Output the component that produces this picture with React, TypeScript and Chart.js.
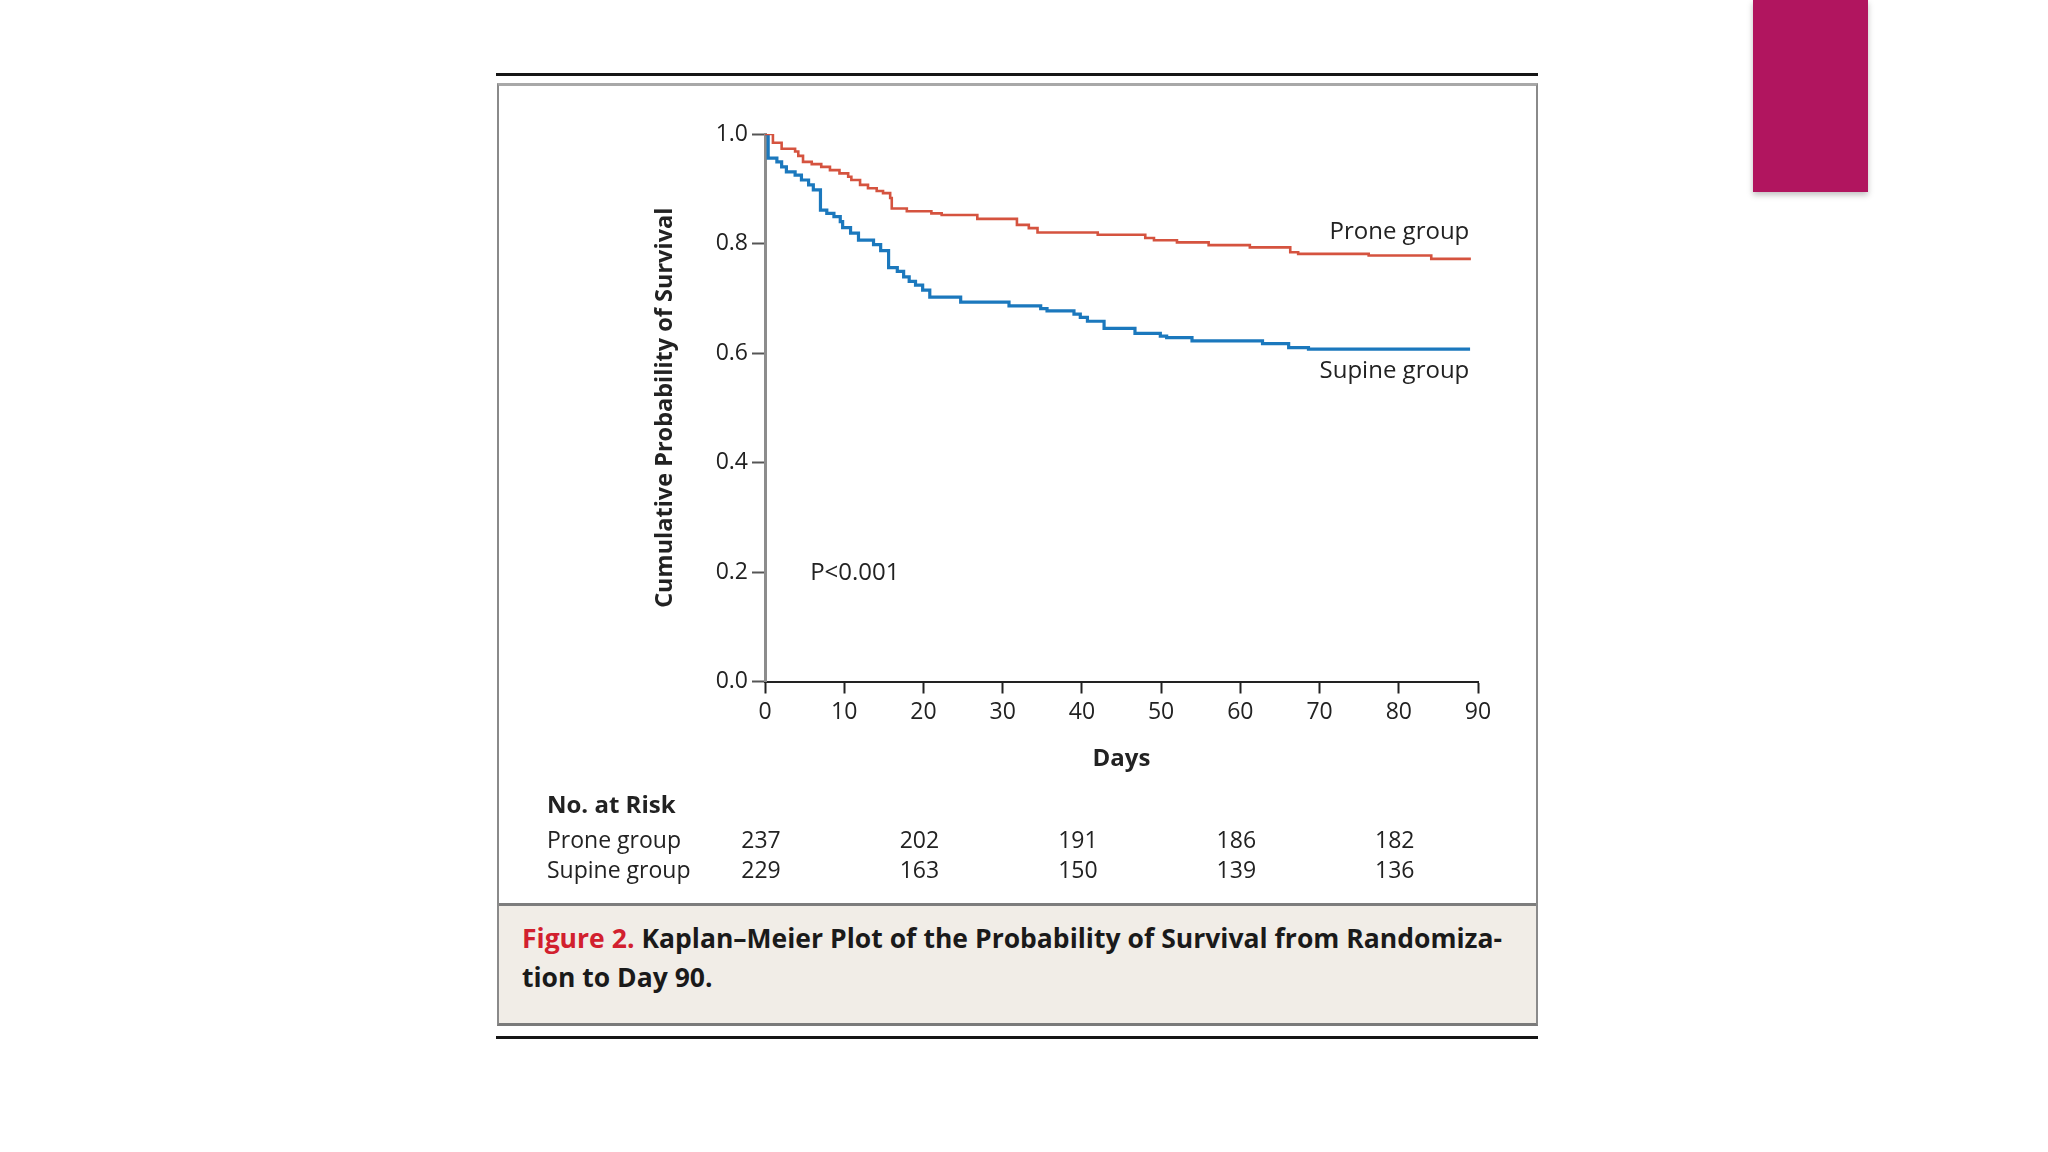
import { useEffect, useRef } from "react";
import { Chart, registerables } from "chart.js";

Chart.register(...registerables);

// Kaplan–Meier step points: day of event and survival probability after it
const proneDays = [0, 1.0, 2.1, 3.8, 4.2, 4.8, 5.9, 7.1, 8.2, 9.4, 10.5, 10.9, 12.0, 13.0, 14.1, 14.9, 15.8, 16.0, 17.9, 21.0, 22.3, 26.8, 31.8, 33.3, 34.4, 42.0, 48.0, 49.1, 52.0, 56.0, 61.2, 66.3, 67.3, 76.2, 84.1, 89.1];
const proneSurvival = [1.0, 0.984, 0.973, 0.968, 0.96, 0.949, 0.945, 0.94, 0.934, 0.928, 0.922, 0.916, 0.907, 0.901, 0.896, 0.892, 0.883, 0.864, 0.859, 0.855, 0.852, 0.845, 0.834, 0.828, 0.82, 0.816, 0.81, 0.806, 0.802, 0.797, 0.793, 0.784, 0.781, 0.778, 0.772, 0.772];

const supineDays = [0, 0.4, 1.5, 2.1, 2.7, 3.8, 4.6, 5.5, 6.1, 7.0, 7.8, 8.7, 9.5, 9.8, 10.8, 11.8, 13.7, 14.6, 15.6, 16.7, 17.5, 18.2, 19.0, 19.9, 20.8, 24.7, 30.8, 34.8, 35.6, 39.0, 39.8, 40.7, 42.8, 46.7, 49.9, 50.7, 53.9, 62.8, 66.1, 68.6, 89.0];
const supineSurvival = [1.0, 0.956, 0.949, 0.94, 0.931, 0.925, 0.916, 0.907, 0.898, 0.861, 0.855, 0.849, 0.84, 0.829, 0.819, 0.806, 0.798, 0.787, 0.756, 0.749, 0.739, 0.731, 0.724, 0.715, 0.702, 0.693, 0.686, 0.681, 0.677, 0.671, 0.665, 0.658, 0.645, 0.636, 0.631, 0.628, 0.622, 0.617, 0.61, 0.607, 0.607];

// Number-at-risk table
const riskDays = [0, 20, 40, 60, 80];
const proneAtRisk = [237, 202, 191, 186, 182];
const supineAtRisk = [229, 163, 150, 139, 136];

const groupNames = ["Prone group", "Supine group"];
const pValueText = "P<0.001";

const FONT = "'Open Sans', 'DejaVu Sans', sans-serif";
const INK = "#222222";
const RED = "#d5533f";
const BLUE = "#1b78bd";

const annotations = {
  id: "kmAnnotations",
  afterDraw(chart: any) {
    const { ctx, scales } = chart;
    const xs = scales.x;
    const ys = scales.y;
    ctx.save();
    ctx.fillStyle = INK;

    // curve labels and p value inside the plot
    ctx.font = `24px ${FONT}`;
    ctx.textBaseline = "middle";
    ctx.textAlign = "right";
    ctx.fillText(groupNames[0], xs.getPixelForValue(88.9), ys.getPixelForValue(0.82));
    ctx.fillText(groupNames[1], xs.getPixelForValue(88.9), ys.getPixelForValue(0.566));
    ctx.textAlign = "left";
    ctx.fillText(pValueText, xs.getPixelForValue(5.7), ys.getPixelForValue(0.197));

    // number at risk below the axis
    const rowLeft = 48;
    ctx.font = `bold 24px ${FONT}`;
    ctx.fillText("No. at Risk", rowLeft, 721);
    ctx.font = `23px ${FONT}`;
    const rows = [
      { name: groupNames[0], values: proneAtRisk, y: 756 },
      { name: groupNames[1], values: supineAtRisk, y: 786 },
    ];
    rows.forEach((r) => {
      ctx.textAlign = "left";
      ctx.fillText(r.name, rowLeft, r.y);
      ctx.textAlign = "center";
      r.values.forEach((v, i) => {
        ctx.fillText(String(v), xs.getPixelForValue(riskDays[i]) - 4, r.y);
      });
    });
    ctx.restore();
  },
};

function KaplanMeierChart() {
  const ref = useRef<HTMLCanvasElement | null>(null);

  useEffect(() => {
    if (!ref.current) return;
    const chart = new Chart(ref.current, {
      type: "line",
      data: {
        datasets: [
          {
            label: groupNames[0],
            data: proneDays.map((d, i) => ({ x: d, y: proneSurvival[i] })),
            borderColor: RED,
            borderWidth: 2.6,
            stepped: true,
            pointRadius: 0,
            fill: false,
          },
          {
            label: groupNames[1],
            data: supineDays.map((d, i) => ({ x: d, y: supineSurvival[i] })),
            borderColor: BLUE,
            borderWidth: 3.2,
            stepped: true,
            pointRadius: 0,
            fill: false,
          },
        ],
      },
      options: {
        animation: false,
        responsive: false,
        devicePixelRatio: 1,
        layout: { padding: { left: 0, right: 58, top: 49, bottom: 0 } },
        plugins: { legend: { display: false }, tooltip: { enabled: false } },
        scales: {
          x: {
            type: "linear",
            min: 0,
            max: 90,
            afterFit(scale: any) {
              scale.height = 222.5;
            },
            ticks: {
              stepSize: 10,
              color: INK,
              padding: 5,
              font: { family: FONT, size: 23 },
              maxRotation: 0,
            },
            grid: {
              drawOnChartArea: false,
              drawTicks: true,
              tickLength: 12,
              tickColor: INK,
              tickWidth: 2,
            },
            border: { color: INK, width: 2 },
            title: {
              display: true,
              text: "Days",
              color: INK,
              font: { family: FONT, size: 24, weight: "bold" },
              padding: { top: 0, bottom: 130 },
            },
          },
          y: {
            min: 0,
            max: 1,
            afterFit(scale: any) {
              scale.width = 266;
            },
            ticks: {
              stepSize: 0.2,
              color: INK,
              padding: 4,
              font: { family: FONT, size: 23 },
              callback: (v: any) => Number(v).toFixed(1),
            },
            grid: {
              drawOnChartArea: false,
              drawTicks: true,
              tickLength: 13,
              tickColor: "#555555",
              tickWidth: 2,
            },
            border: { color: "#8c8c8c", width: 3 },
            title: {
              display: true,
              text: "Cumulative Probability of Survival",
              color: INK,
              font: { family: FONT, size: 23.5, weight: "bold" },
              padding: { top: 152, bottom: 0 },
            },
          },
        },
      },
      plugins: [annotations],
    });
    return () => chart.destroy();
  }, []);

  return (
    <canvas
      ref={ref}
      width={1037}
      height={819}
      style={{ position: "absolute", left: 499, top: 85, width: 1037, height: 819 }}
    />
  );
}

export default function App() {
  return (
    <div
      style={{
        position: "fixed",
        left: 0,
        top: 0,
        width: 2048,
        height: 1152,
        background: "#ffffff",
        overflow: "hidden",
        fontFamily: FONT,
      }}
    >
      {/* accent block */}
      <div
        style={{
          position: "absolute",
          left: 1753,
          top: 0,
          width: 115,
          height: 192,
          background: "#b1155f",
          boxShadow: "0 3px 6px rgba(0,0,0,0.25)",
        }}
      />
      {/* top rule */}
      <div style={{ position: "absolute", left: 496, top: 73, width: 1042, height: 3, background: "#161616" }} />
      {/* figure frame */}
      <div
        style={{
          position: "absolute",
          left: 497,
          top: 83,
          width: 1041,
          height: 943,
          boxSizing: "border-box",
          borderLeft: "2px solid #8a8a8a",
          borderRight: "2px solid #8a8a8a",
          borderTop: "3px solid #a8a8a8",
          borderBottom: "3px solid #7a7a7a",
          background: "#ffffff",
        }}
      />
      <KaplanMeierChart />
      {/* caption panel */}
      <div
        style={{
          position: "absolute",
          left: 499,
          top: 903,
          width: 1037,
          height: 120,
          boxSizing: "border-box",
          borderTop: "3px solid #7d7d7d",
          background: "#f1ede7",
        }}
      />
      <div
        style={{
          position: "absolute",
          left: 522,
          top: 919,
          width: 980,
          fontSize: 26.5,
          lineHeight: "39px",
          fontWeight: 700,
          color: "#1a1a1a",
          whiteSpace: "nowrap",
        }}
      >
        <div style={{ textAlignLast: "justify" }}>
          <span style={{ color: "#d2202e" }}>Figure 2.</span> Kaplan–Meier Plot of the Probability of Survival from Randomiza-
        </div>
        <div>tion to Day 90.</div>
      </div>
      {/* bottom rule */}
      <div style={{ position: "absolute", left: 496, top: 1036, width: 1042, height: 3, background: "#161616" }} />
    </div>
  );
}
